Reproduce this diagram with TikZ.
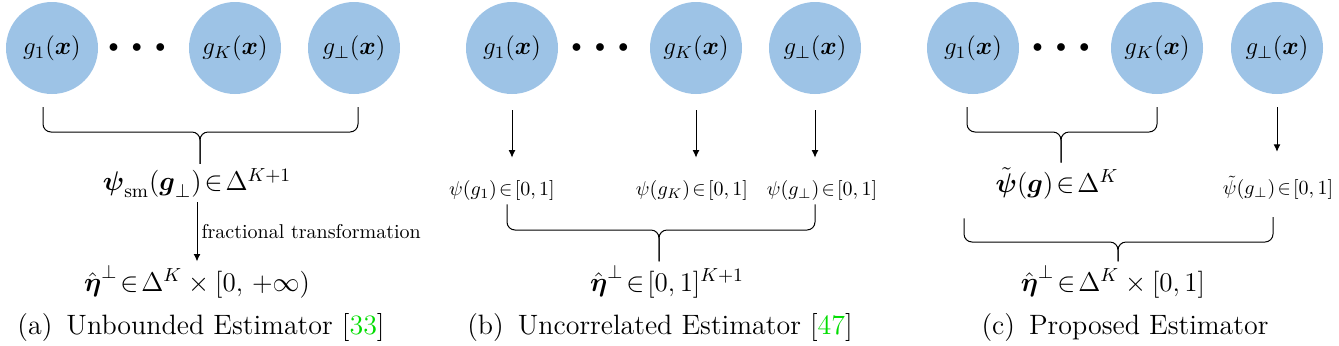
\RequirePackage{fix-cm}
\documentclass[tikz,border=0pt]{standalone}
\usepackage{amsmath}
\usepackage{amssymb}
\usepackage{tikz}
\usetikzlibrary{positioning, arrows.meta, calc}
\definecolor{gblue}{RGB}{157,195,230}
\definecolor{citegreen}{RGB}{0,220,0}
\tikzset{
  gnode/.style = {circle, fill=gblue, minimum size=46pt, inner sep=0pt,
                  font=\fontsize{12.5}{14}\selectfont},
  big/.style   = {inner sep=2pt, font=\fontsize{13.5}{15}\selectfont},
  sml/.style   = {inner sep=2pt, font=\normalsize},
  dts/.style   = {inner sep=0pt, font=\normalsize},
  captxt/.style= {inner sep=0pt, font=\fontsize{14}{17}\selectfont},
  ar/.style    = {-{Latex[length=1.3mm, width=1.2mm]}, line width=0.5pt},
  brc/.style   = {line width=0.5pt, rounded corners=4pt},
}
\newcommand{\threedots}{$\bullet\hspace{4.5pt}\bullet\hspace{4.5pt}\bullet$}
\newcommand{\inn}{\!\in\!}

\begin{document}
\begin{tikzpicture}[x=0.5pt, y=-0.5pt]
  \useasboundingbox (0,0) rectangle (1339,345);
  % (a) unbounded
  \node[gnode] (a1) at (52,48)  {$g_1(\boldsymbol{x})$};
  \node[dts]   (ad) at (137,48) {\threedots};
  \node[gnode] (aK) at (235,48) {$g_K(\boldsymbol{x})$};
  \node[gnode] (ap) at (354,48) {$g_\perp(\boldsymbol{x})$};
  \node[big] (asm)  at (197,183) {$\boldsymbol{\psi}_{\mathrm{sm}}(\boldsymbol{g}_{\perp})\inn\Delta^{K+1}$};
  \node[big] (aeta) at (197,282) {$\hat{\boldsymbol{\eta}}^{\perp}\inn\Delta^{K}\times[0,\,+\infty)$};
  \node[captxt] (acap) at (201,328) {(a)\hspace{0.5em}Unbounded Estimator [\textcolor{citegreen}{33}]};
  \coordinate (amid) at (200,132);
  \draw[brc] (a1) ++(-9,59) |- (amid) -- (amid |- asm.north);
  \draw[brc] (ap) ++(4,59)  |- (amid) -- (amid |- asm.north);
  \draw[ar] (asm) -- node[right, font=\normalsize, inner sep=2pt] {fractional transformation} (aeta);
  % (b) uncorrelated
  \node[gnode] (b1) at (512,48) {$g_1(\boldsymbol{x})$};
  \node[dts]   (bd) at (600,48) {\threedots};
  \node[gnode] (bK) at (696,48) {$g_K(\boldsymbol{x})$};
  \node[gnode] (bp) at (815,48) {$g_\perp(\boldsymbol{x})$};
  \node[sml] (pb1) at (502,190) {$\psi(g_1)\inn[0,1]$};
  \node[sml] (pbK) at (692,190) {$\psi(g_K)\inn[0,1]$};
  \node[sml] (pbp) at (822,190) {$\psi(g_\perp)\inn[0,1]$};
  \node[big] (beta) at (667,282) {$\hat{\boldsymbol{\eta}}^{\perp}\inn[0,1]^{K+1}$};
  \node[captxt] (bcap) at (660,328) {(b)\hspace{0.5em}Uncorrelated Estimator [\textcolor{citegreen}{47}]};
  \draw[ar, shorten <=8pt, shorten >=9pt] (b1) -- (b1 |- pb1.north);
  \draw[ar, shorten <=8pt, shorten >=9pt] (bK) -- (bK |- pbK.north);
  \draw[ar, shorten <=8pt, shorten >=9pt] (bp) -- (bp |- pbp.north);
  \coordinate (bmid) at (659,230);
  \draw[brc] (pb1.south -| b1) ++(-5,0) |- (bmid) -- (bmid |- beta.north);
  \draw[brc] (pbp.south -| bp) |- (bmid) -- (bmid |- beta.north);
  % (c) proposed
  \node[gnode] (c1) at (973,48)  {$g_1(\boldsymbol{x})$};
  \node[dts]   (cd) at (1061,48) {\threedots};
  \node[gnode] (cK) at (1157,48) {$g_K(\boldsymbol{x})$};
  \node[gnode] (cp) at (1277,48) {$g_\perp(\boldsymbol{x})$};
  \node[big] (cpsi) at (1057,183) {$\tilde{\boldsymbol{\psi}}(\boldsymbol{g})\inn\Delta^{K}$};
  \node[sml] (cpp)  at (1278,188) {$\tilde{\psi}(g_\perp)\inn[0,1]$};
  \node[big] (ceta) at (1113,282) {$\hat{\boldsymbol{\eta}}^{\perp}\inn\Delta^{K}\times[0,1]$};
  \node[captxt] (ccap) at (1125,328) {(c)\hspace{0.5em}Proposed Estimator};
  \coordinate (cmid1) at (1061,132);
  \draw[brc] (c1) ++(-6,59) |- (cmid1) -- (cmid1 |- cpsi.north);
  \draw[brc] (cK) ++(0,59)  |- (cmid1) -- (cmid1 |- cpsi.north);
  \draw[ar, shorten <=6.5pt, shorten >=10pt] (cp) -- (cp |- cpp.north);
  \coordinate (cmid2) at (1118,242);
  \draw[brc] (cpsi.south -| c1) ++(-9,15) |- (cmid2) -- (cmid2 |- ceta.north);
  \draw[brc] (cpp.south -| cp) ++(-4,13)  |- (cmid2) -- (cmid2 |- ceta.north);
\end{tikzpicture}
\end{document}
